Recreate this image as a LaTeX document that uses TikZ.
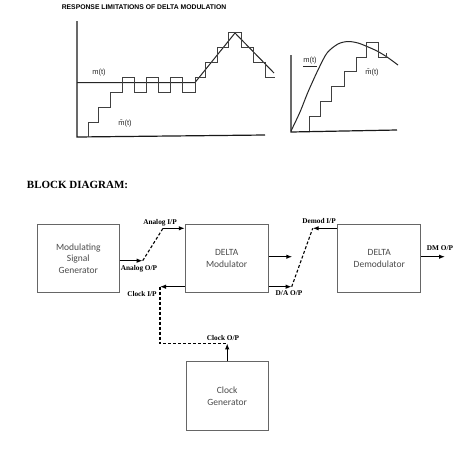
\documentclass[tikz,border=0pt]{standalone}
\usepackage{fontspec}
\setmainfont{Liberation Serif}
\newfontfamily\boxfont{Carlito}
\newfontfamily\graphfont{Liberation Sans}
\usetikzlibrary{arrows.meta}
\begin{document}
\begin{tikzpicture}[x=1pt,y=-1pt,
  blk/.style={draw=black!60, line width=0.8pt, minimum width=83pt, minimum height=68.5pt, inner sep=0pt, align=center, font=\boxfont\fontsize{9.5}{11.5}\selectfont, text=black!70},
  sig/.style={line width=1.3pt, -{Latex[length=6pt,width=4.5pt]}},
  dsh/.style={line width=1.1pt, dash pattern=on 3pt off 2pt},
  lbl/.style={font=\bfseries\fontsize{7.3}{8}\selectfont, inner sep=0pt},
  curve/.style={line width=1pt, black!85},
  stair/.style={line width=0.9pt, black!75},
  axis/.style={line width=1.2pt, black!90},
  gl/.style={font=\graphfont\fontsize{7.5}{8}\selectfont, inner sep=0pt, text=black!85}]
\useasboundingbox[fill=white] (0,0) rectangle (474,448);

% ---------- title ----------
\node[font=\graphfont\bfseries\fontsize{6.8}{7.5}\selectfont, inner sep=0pt] (title) at (144,7.5) {RESPONSE LIMITATIONS OF DELTA MODULATION};

% ---------- left graph ----------
\draw[axis] (77,21) -- (77,137) -- (265,135);
\draw[curve] (77,82.5) -- (195,82.5) -- (235,33) -- (274,73);
\draw[stair] (88,137) |- (98,122) |- (110,107) |- (122,92) |- (134,77) |- (146,92) |- (158,77) |- (170,92) |- (182,77) |- (195,92) |- (205,77) |- (217,62) |- (228,47) |- (241,32) |- (253,47) |- (265,62) |- (275,77);
\node[gl] (lm) at (99,73) {m(t)};
\node[gl] (lmh) at (125,123) {\={m}(t)};

% ---------- right graph ----------
\draw[axis] (291,55) -- (291,132) -- (397,130);
\draw[curve] plot[smooth] coordinates {(291,131) (300,112) (308,92) (318,70) (327,53) (338,44) (348,41.5) (358,43) (367,46.5) (377,51) (387,57) (398,65)};
\draw[stair] (309,131) |- (320,116.7) |- (331.7,101) |- (344,86.7) |- (356,71.7) |- (366.7,57.3) |- (378.3,42.7) |- (386.5,57.3) -- (386.5,53);
\node[gl] (rm) at (310,62) {\underline{m(t)}};
\node[gl] (rmh) at (372,72.5) {\={m}(t)};

% ---------- block diagram ----------
\node[font=\bfseries\fontsize{11}{13}\selectfont, inner sep=0pt] (bd) at (77.5,185) {BLOCK DIAGRAM:};

\node[blk, minimum width=82pt] (b1) at (78.3,258.5) {Modulating\\Signal\\Generator};
\node[blk] (b2) at (226.7,258.5) {DELTA\\Modulator};
\node[blk] (b3) at (379.3,258.5) {DELTA\\Demodulator};
\node[blk, minimum width=82.3pt, minimum height=69pt] (b4) at (227.2,396.2) {Clock\\Generator};

\coordinate (aop) at (142.7,260.7);
\coordinate (aip) at (163,228.3);
\coordinate (cip) at (160,286.7);
\coordinate (cop) at (227.2,343.3);
\coordinate (dout) at (292.3,256.7);
\coordinate (dao) at (291.7,286.7);
\coordinate (dmi) at (312.7,228.3);
\coordinate (dmo) at (445,256.7);

\draw[sig] (b1.east |- aop) -- (aop);
\draw[dsh] (aop) -- (aip);
\draw[sig] (aip) -- (aip -| b2.west);

\draw[sig] (b2.west |- cip) -- (cip);
\draw[dsh] (cip) |- (cop);
\draw[sig] (b4.north) -- (cop);

\draw[sig] (b2.east |- dout) -- (dout);
\draw[sig] (b2.east |- dao) -- (dao);
\draw[dsh] (dao) -- (dmi);
\draw[sig] (b3.west |- dmi) -- (dmi);

\draw[sig] (b3.east |- dmo) -- (dmo);

\node[lbl] (l1) at (160,222.7) {Analog I/P};
\node[lbl] (l2) at (139,268.3) {Analog O/P};
\node[lbl] (l3) at (142,294) {Clock I/P};
\node[lbl] (l4) at (223,338.3) {Clock O/P};
\node[lbl] (l5) at (319,220.7) {Demod I/P};
\node[lbl] (l6) at (289,293.3) {D/A O/P};
\node[lbl] (l7) at (440,248.3) {DM O/P};
\end{tikzpicture}
\end{document}
